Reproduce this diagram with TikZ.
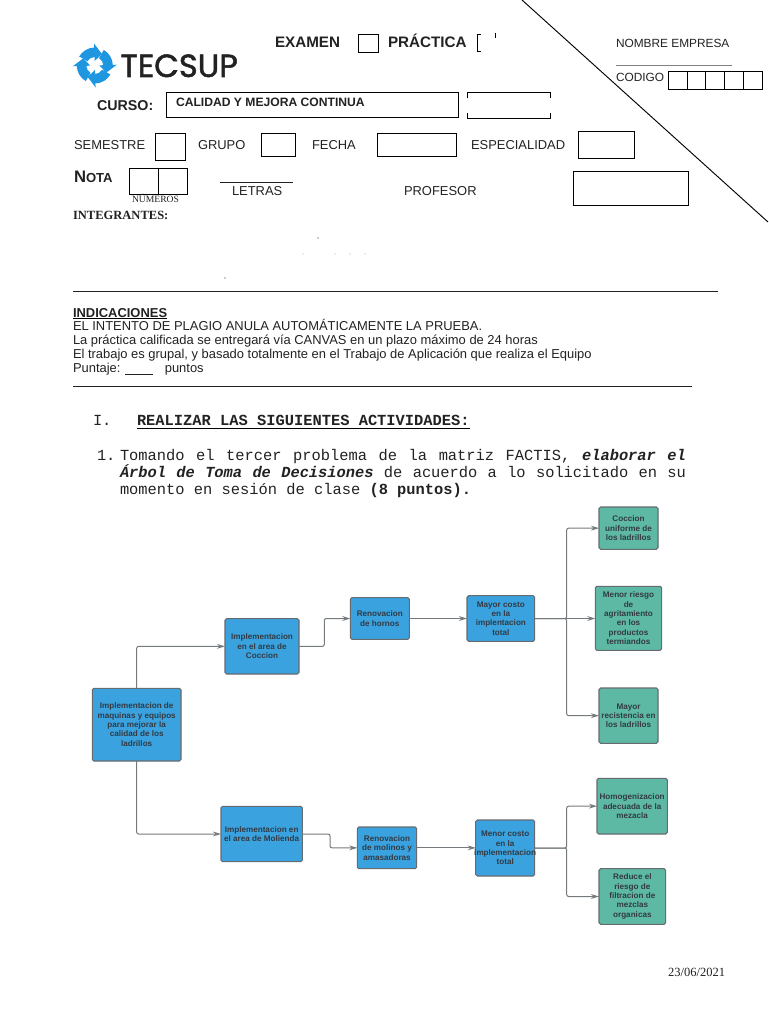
\documentclass[tikz,border=0pt]{standalone}
\usepackage{fontspec}
\usetikzlibrary{arrows.meta,calc}
\setmainfont{Liberation Sans}
\newfontfamily\timesf{Liberation Serif}
\newfontfamily\monof{Liberation Mono}
\newfontfamily\logof[FakeBold=1.6]{Poppins}
\definecolor{fillblue}{HTML}{3AA3DF}
\definecolor{fillgreen}{HTML}{5DB9A3}
\definecolor{edgegray}{HTML}{666B70}
\definecolor{nodetext}{HTML}{333A44}
\definecolor{logoblue}{HTML}{1E97E0}
\definecolor{inkblack}{HTML}{222222}
\tikzset{
  txt/.style={anchor=base west,inner sep=0pt,outer sep=0pt,text=inkblack},
  formbox/.style={draw=black,line width=.7pt,inner sep=0pt,outer sep=0pt},
  bluebox/.style={draw=edgegray,fill=fillblue,line width=.8pt,rounded corners=1.2pt,inner sep=0pt,outer sep=0pt,align=center,text=nodetext,font=\fontsize{6.1}{7}\selectfont\bfseries},
  greenbox/.style={bluebox,fill=fillgreen},
  conn/.style={draw=edgegray!90,line width=.75pt,rounded corners=1.5pt,-{Stealth[length=6pt,width=3.6pt]}},
  rule/.style={draw=inkblack,line width=.5pt},
  normal/.style={font=\fontsize{9.7}{11}\selectfont},
  boldn/.style={font=\fontsize{10.7}{12}\selectfont\bfseries},
  speck/.style={fill=inkblack},
}
\newcommand{\diagbox}[7]{%
  \pgfmathsetmacro{\cxx}{(#2+#4)/2}\pgfmathsetmacro{\cyy}{(#3+#5)/2}%
  \pgfmathsetmacro{\wdd}{(#4-#2)*0.75}\pgfmathsetmacro{\htt}{(#5-#3)*0.75}%
  \node[#6,minimum width=\wdd pt,minimum height=\htt pt] (#1) at (\cxx,\cyy) {#7};}
\begin{document}
\begin{tikzpicture}[x=.75pt,y=-.75pt]
\path[use as bounding box,fill=white] (0,0) rectangle (768,1024);
% logo
\foreach \a in {0,90,180,270}{
  \begin{scope}[shift={(94.8,65.5)},rotate=\a]
    \fill[logoblue] (-150:8.5) arc (-150:-92:8.5) -- (-92:4.5) -- (-58:13.5) -- (-92:22) -- (-92:18) arc (-92:-150:18) -- cycle;
  \end{scope}
}
\node[txt,text=inkblack,font=\fontsize{24}{25}\logof] (logotext) at (120.5,77) {TECSUP};
% header
\node[txt,font=\fontsize{11.4}{12}\selectfont\bfseries] (examen) at (275,48) {EXAMEN};
\diagbox{exambox}{358}{34}{378}{52}{formbox}{}
\node[txt,font=\fontsize{11.4}{12}\selectfont\bfseries] (practica) at (388,48) {PRÁCTICA};
\coordinate (bra1) at (481,34);\coordinate (bra2) at (477.5,34);\coordinate (bra3) at (477.5,51);\coordinate (bra4) at (481,51);
\draw[line width=.6pt] (bra1)--(bra2)--(bra3)--(bra4);
\coordinate (tick1) at (495,33);\coordinate (tick2) at (495,38);
\draw[line width=.6pt] (tick1)--(tick2);
\coordinate (diagA) at (522,0);\coordinate (diagB) at (768,222);
\draw[line width=.7pt] (diagA)--(diagB);
\node[txt,font=\fontsize{8.9}{10}\selectfont] (empresa) at (616,47.5) {NOMBRE EMPRESA};
\coordinate (ul1) at (616,65);\coordinate (ul2) at (732,65);
\draw[rule,draw=gray] (ul1)--(ul2);
\node[txt,font=\fontsize{8.9}{10}\selectfont] (codigo) at (616,82) {CODIGO};
\foreach \i/\xa/\xb in {1/668/687,2/687/705,3/705/724,4/724/743,5/743/762}{\diagbox{cod\i}{\xa}{71}{\xb}{89}{formbox}{}}
% curso
\node[txt,boldn] (curso) at (97,110) {CURSO:};
\diagbox{cursobox}{166}{92}{458}{117}{formbox}{}
\node[txt,font=\fontsize{9.1}{10}\selectfont\bfseries] (cursotxt) at (176,107) {CALIDAD Y MEJORA CONTINUA};
\coordinate (c1) at (467,98);\coordinate (c2) at (467,92);\coordinate (c3) at (550,92);\coordinate (c4) at (550,98);
\coordinate (c5) at (467,113);\coordinate (c6) at (467,118);\coordinate (c7) at (550,118);\coordinate (c8) at (550,113);
\draw[line width=.6pt] (c1)--(c2)--(c3)--(c4) (c5)--(c6)--(c7)--(c8);
% row 2
\node[txt,normal] (semestre) at (74,149) {SEMESTRE};
\diagbox{sembox}{155}{133}{185}{160}{formbox}{}
\node[txt,normal] (grupo) at (198,149) {GRUPO};
\diagbox{grubox}{261}{133}{295}{156}{formbox}{}
\node[txt,normal] (fecha) at (312,149) {FECHA};
\diagbox{fecbox}{377}{133}{456}{156}{formbox}{}
\node[txt,normal] (espec) at (471,149) {ESPECIALIDAD};
\diagbox{espbox}{578}{131}{634}{158}{formbox}{}
% nota
\node[txt,font=\bfseries] (nota) at (74,182) {{\fontsize{12.5}{13}\selectfont N}{\fontsize{9.8}{11}\selectfont OTA}};
\diagbox{nota1}{129}{168}{158}{194}{formbox}{}
\diagbox{nota2}{158}{168}{187}{194}{formbox}{}
\node[txt,font=\fontsize{7.2}{8}\timesf] (numeros) at (132,202) {NÚMEROS};
\coordinate (le1) at (220,182);\coordinate (le2) at (293,182);
\draw[rule] (le1)--(le2);
\node[txt,normal] (letras) at (232,195) {LETRAS};
\node[txt,normal] (profesor) at (404,195) {PROFESOR};
\diagbox{profbox}{573}{171}{688}{205}{formbox}{}
\node[txt,font=\fontsize{9.4}{10}\timesf\bfseries] (integrantes) at (73,219) {INTEGRANTES:};
\fill[speck] (318,238) circle (.6) (225,278) circle (.6) (303,254) circle (.4) (335,254) circle (.4) (350,254) circle (.4) (365,254) circle (.4);
\coordinate (r1a) at (73,291);\coordinate (r1b) at (718,291);
\draw[rule] (r1a)--(r1b);
% indications
\node[txt,normal,font=\fontsize{9.7}{11}\selectfont\bfseries] (indic) at (73,317) {INDICACIONES};
\draw[line width=.6pt] ($(indic.base west)+(0,1.5)$)--($(indic.base east)+(0,1.5)$);
\node[txt,font=\fontsize{9.7}{11}\selectfont] (ind1) at (73,330.5) {EL INTENTO DE PLAGIO ANULA AUTOMÁTICAMENTE LA PRUEBA.};
\node[txt,font=\fontsize{9.7}{11}\selectfont] (ind2) at (73,344.5) {La práctica calificada se entregará vía CANVAS en un plazo máximo de 24 horas};
\node[txt,font=\fontsize{9.7}{11}\selectfont] (ind3) at (73,358.5) {El trabajo es grupal, y basado totalmente en el Trabajo de Aplicación que realiza el Equipo};
\node[txt,font=\fontsize{9.7}{11}\selectfont] (ind4) at (73,372) {Puntaje: \underline{\hspace{21pt}}\hspace{6pt} puntos};
\coordinate (r2a) at (73,386);\coordinate (r2b) at (692,386);
\draw[rule] (r2a)--(r2b);
% activities
\node[txt,font=\fontsize{11.55}{12}\monof] (roman) at (93,425) {I.};
\node[txt,font=\fontsize{11.55}{12}\monof\bfseries] (realizar) at (137,425) {REALIZAR LAS SIGUIENTES ACTIVIDADES:};
\draw[line width=1pt] ($(realizar.base west)+(0,3.5)$)--($(realizar.base east)+(0,3.5)$);
\node[txt,font=\fontsize{11.55}{12}\monof] (num1) at (97,460) {1.};
\node[txt,font=\fontsize{11.55}{12}\monof] (l1) at (120,460) {\hbox to 424.5pt{\spaceskip=.6em plus 1fil Tomando el tercer problema de la matriz FACTIS, \bfseries\itshape elaborar el}};
\node[txt,font=\fontsize{11.55}{12}\monof] (l2) at (120,477) {\hbox to 424.5pt{\spaceskip=.6em plus 1fil {\bfseries\itshape Árbol de Toma de Decisiones} de acuerdo a lo solicitado en su}};
\node[txt,font=\fontsize{11.55}{12}\monof] (l3) at (120,494) {momento en sesión de clase {\bfseries (8 puntos).}};
% diagram nodes
\diagbox{root}{92.3}{688.3}{181}{761}{bluebox}{Implementacion de\\maquinas y equipos\\para mejorar la\\calidad de los\\ladrillos}
\diagbox{coc}{225}{618.7}{299}{674}{bluebox}{Implementacion\\en el area de\\Coccion}
\diagbox{hor}{350.3}{597.7}{409.3}{639.3}{bluebox}{Renovacion\\de hornos}
\diagbox{mol}{221}{806.3}{302.3}{861.7}{bluebox}{Implementacion en\\el area de Molienda}
\diagbox{ren}{357.3}{827}{416.7}{868.7}{bluebox}{Renovacion\\de molinos y\\amasadoras}
\diagbox{may}{467}{595.7}{534.7}{641.3}{bluebox}{Mayor costo\\en la\\implentacion\\total}
\diagbox{men}{475.7}{820}{534.7}{876}{bluebox}{Menor costo\\en la\\\makebox[0pt]{implementacion}\\total}
\diagbox{g1}{599}{507}{658}{549.3}{greenbox}{Coccion\\uniforme de\\los ladrillos}
\diagbox{g2}{595.3}{586.3}{661.7}{650.3}{greenbox}{Menor riesgo\\de\\agritamiento\\en los\\productos\\termiandos}
\diagbox{g3}{599}{688}{658}{743.3}{greenbox}{Mayor\\recistencia en\\los ladrillos}
\diagbox{g4}{597}{778.3}{667.3}{834}{greenbox}{Homogenizacion\\adecuada de la\\mezacla}
\diagbox{g5}{599}{868.7}{665.7}{924.3}{greenbox}{Reduce el\\riesgo de\\filtracion de\\mezclas\\organicas}
% connectors
\coordinate (m1) at (324.3,0);\coordinate (m2) at (330,0);\coordinate (m3) at (566.7,0);
\draw[conn] (root.north) |- (coc.west);
\draw[conn] (root.south) |- (mol.west);
\draw[conn] (coc.east) -- (coc.east -| m1) |- (hor.west);
\draw[conn] (mol.east) -- (mol.east -| m2) |- (ren.west);
\draw[conn] (hor.east) -- (may.west |- hor.east);
\draw[conn] (ren.east) -- (men.west |- ren.east);
\draw[conn] (may.east) -- (may.east -| m3) |- (g1.west);
\draw[conn] (may.east) -- (g2.west |- may.east);
\draw[conn] (may.east) -- (may.east -| m3) |- (g3.west);
\draw[conn] (men.east) -- (men.east -| m3) |- (g4.west);
\draw[conn] (men.east) -- (men.east -| m3) |- (g5.west);
% date
\node[txt,font=\fontsize{9.4}{10}\timesf] (fechadoc) at (668,976) {23/06/2021};
\end{tikzpicture}
\end{document}
